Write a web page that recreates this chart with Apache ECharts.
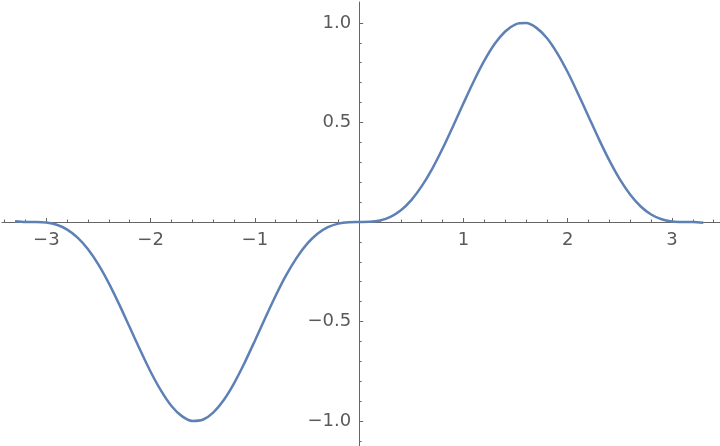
<!DOCTYPE html>
<html>
<head>
<meta charset="utf-8">
<script src="https://cdn.jsdelivr.net/npm/echarts@6/dist/echarts.min.js"></script>
<style>
html,body{margin:0;padding:0;background:#fff;}
#chart{width:720px;height:446px;}
</style>
</head>
<body>
<div id="chart"></div>
<script>
// x positions sampled along the curve
var xValues = [-3.3,-3.2,-3.1,-3.0,-2.9,-2.8,-2.7,-2.6,-2.5,-2.4,-2.3,-2.2,-2.1,-2.0,-1.9,-1.8,-1.7,-1.6,-1.5,-1.4,-1.3,-1.2,-1.1,-1.0,-0.9,-0.8,-0.7,-0.6,-0.5,-0.4,-0.3,-0.2,-0.1,0.0,0.1,0.2,0.3,0.4,0.5,0.6,0.7,0.8,0.9,1.0,1.1,1.2,1.3,1.4,1.5,1.6,1.7,1.8,1.9,2.0,2.1,2.2,2.3,2.4,2.5,2.6,2.7,2.8,2.9,3.0,3.1,3.2,3.3];
// y values
var yValues = [0.004,0.0002,-0.0001,-0.003,-0.014,-0.038,-0.078,-0.137,-0.214,-0.308,-0.415,-0.529,-0.643,-0.752,-0.847,-0.924,-0.975,-0.999,-0.993,-0.957,-0.895,-0.810,-0.708,-0.596,-0.481,-0.369,-0.267,-0.180,-0.110,-0.059,-0.026,-0.008,-0.001,0.0,0.001,0.008,0.026,0.059,0.110,0.180,0.267,0.369,0.481,0.596,0.708,0.810,0.895,0.957,0.993,0.999,0.975,0.924,0.847,0.752,0.643,0.529,0.415,0.308,0.214,0.137,0.078,0.038,0.014,0.003,0.0001,-0.0002,-0.004];
// tick labels
var xTickLabels = [-3,-2,-1,1,2,3];
var yTickLabels = [-1.0,-0.5,0.5,1.0];
// minor tick positions
var xMinorTicks = [-3.4,-3.2,-2.8,-2.6,-2.4,-2.2,-1.8,-1.6,-1.4,-1.2,-0.8,-0.6,-0.4,-0.2,0.2,0.4,0.6,0.8,1.2,1.4,1.6,1.8,2.2,2.4,2.6,2.8,3.2,3.4];
var yMinorTicks = [-1.1,-0.9,-0.8,-0.7,-0.6,-0.4,-0.3,-0.2,-0.1,0.1,0.2,0.3,0.4,0.6,0.7,0.8,0.9];

var seriesData = xValues.map(function(x,i){return [x,yValues[i]];});
function minus(s){return String(s).replace('-','\u2212');}

var X_MIN = -3.425, X_MAX = 3.46, Y_MIN = -1.125, Y_MAX = 1.105;
var axisColor = '#666666';
var lblColor = '#595959';
var lblFont = 'DejaVu Sans';
var lblSize = 18;

function buildOption(xOff, yOff){
  return {
    animation:false,
    backgroundColor:'#ffffff',
    grid:{left:2, right:0, top:2, bottom:0, containLabel:false, outerBoundsMode:'none'},
    xAxis:[{
      type:'value', min:X_MIN, max:X_MAX, position:'bottom', offset:xOff,
      axisLine:{show:true, onZero:false, lineStyle:{color:axisColor, width:1}},
      axisTick:{show:true, inside:true, length:4, customValues:xTickLabels, lineStyle:{color:axisColor}},
      minorTick:{show:false},
      axisLabel:{show:true, customValues:xTickLabels, margin:9, color:lblColor, fontSize:lblSize, fontFamily:lblFont,
        formatter:function(v){return minus(Math.round(Number(v)));}},
      splitLine:{show:false}
    },{
      type:'value', min:X_MIN, max:X_MAX, position:'bottom', offset:xOff,
      axisLine:{show:false, onZero:false},
      axisTick:{show:true, inside:true, length:2.5, customValues:xMinorTicks, lineStyle:{color:axisColor}},
      axisLabel:{show:false}, splitLine:{show:false}
    }],
    yAxis:[{
      type:'value', min:Y_MIN, max:Y_MAX, position:'left', offset:yOff,
      axisLine:{show:true, onZero:false, lineStyle:{color:axisColor, width:1}},
      axisTick:{show:true, inside:true, length:4, customValues:yTickLabels, lineStyle:{color:axisColor}},
      minorTick:{show:false},
      axisLabel:{show:true, customValues:yTickLabels, margin:8, color:lblColor, fontSize:lblSize, fontFamily:lblFont,
        formatter:function(v){return minus(Number(v).toFixed(1));}},
      splitLine:{show:false}
    },{
      type:'value', min:Y_MIN, max:Y_MAX, position:'left', offset:yOff,
      axisLine:{show:false, onZero:false},
      axisTick:{show:true, inside:true, length:2.5, customValues:yMinorTicks, lineStyle:{color:axisColor}},
      axisLabel:{show:false}, splitLine:{show:false}
    }],
    series:[{
      type:'line', data:seriesData, xAxisIndex:0, yAxisIndex:0,
      smooth:0.3, showSymbol:false, symbol:'none',
      lineStyle:{color:'#5E81B5', width:2.5}, clip:true, z:3
    }]
  };
}

var chart = echarts.init(document.getElementById('chart'), null, {renderer:'canvas'});
chart.setOption(buildOption(0,0));
// Move the axes onto the origin using the library's own scales
var zeroY = chart.convertToPixel({yAxisIndex:0}, 0);
var bottomY = chart.convertToPixel({yAxisIndex:0}, Y_MIN);
var zeroX = chart.convertToPixel({xAxisIndex:0}, 0);
var leftX = chart.convertToPixel({xAxisIndex:0}, X_MIN);
chart.setOption(buildOption(-(bottomY - zeroY), -(zeroX - leftX)), true);
</script>
</body>
</html>
